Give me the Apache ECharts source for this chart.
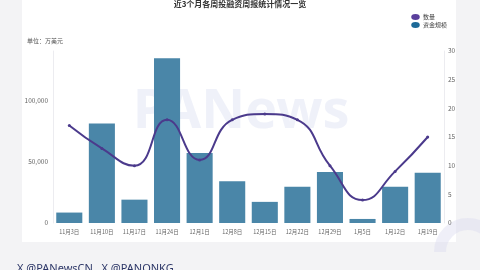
<!DOCTYPE html>
<html>
<head>
<meta charset="utf-8">
<style>
html,body{margin:0;padding:0;background:#f3f3f5;}
#chart{width:480px;height:270px;}
</style>
<script src="https://cdn.jsdelivr.net/npm/echarts@6/dist/echarts.min.js"></script>
</head>
<body>
<div id="chart"></div>
<script>
const categories = ['11月3日','11月10日','11月17日','11月24日','12月1日','12月8日','12月15日','12月22日','12月29日','1月5日','1月12日','1月19日'];
const fundValues = [8500, 81000, 19000, 134000, 57000, 34000, 17200, 29500, 41600, 3300, 29500, 41000];
const countValues = [17, 13, 10, 18, 11, 18, 19, 18, 10, 4, 9, 15];
const leftTicks = [0, 50000, 100000];
const rightTicks = [0, 5, 10, 15, 20, 25, 30];

const chart = echarts.init(document.getElementById('chart'), null, {renderer: 'canvas'});
const font = '"Noto Sans CJK SC", "Noto Sans", sans-serif';
const ellipse = 'path://M0,3.5 A5,3.5 0 1,1 10,3.5 A5,3.5 0 1,1 0,3.5 Z';

chart.setOption({
  backgroundColor: '#f3f3f5',
  animation: false,
  textStyle: {fontFamily: font},
  graphic: [
    {type: 'rect', z: -10, silent: true, shape: {x: 22, y: -10, width: 434, height: 252}, style: {fill: '#ffffff'}},
    {type: 'text', z: -5, silent: true, left: 133, top: 86, style: {text: 'PANews', font: 'bold 54px "Noto Sans", sans-serif', fill: 'rgba(228,231,245,0.6)'}},
    {type: 'arc', z: -4, silent: true, shape: {cx: 468, cy: 252, r: 28, startAngle: Math.PI, endAngle: 2 * Math.PI}, style: {stroke: 'rgba(220,220,240,0.45)', lineWidth: 12, fill: null}},
    {type: 'text', z: 5, left: 27, top: 38, style: {text: '单位：万美元', font: '6px ' + font, fill: '#555'}},
    {type: 'text', z: 5, left: 17, top: 263, style: {text: 'X @PANewsCN   X @PANONKG', font: '11px "Noto Sans", sans-serif', fill: '#2b3566'}}
  ],
  title: {
    text: '近3个月各周投融资周报统计情况一览',
    left: 'center',
    top: -5,
    textStyle: {fontSize: 8, fontWeight: 'bold', color: '#333', fontFamily: font}
  },
  legend: {
    orient: 'vertical',
    right: 28,
    top: 9,
    itemWidth: 9,
    itemHeight: 6,
    itemGap: 2,
    textStyle: {fontSize: 6, color: '#444', padding: [0, 0, 0, -2]},
    data: [
      {name: '数量', icon: ellipse, itemStyle: {color: '#5a3f9c'}},
      {name: '资金规模', icon: ellipse, itemStyle: {color: '#1d6a98'}}
    ]
  },
  grid: {left: 53, right: 36, top: 51, bottom: 47},
  xAxis: {
    type: 'category',
    data: categories,
    axisLine: {show: false},
    axisTick: {show: false},
    axisLabel: {fontSize: 5.5, color: '#666', margin: 6, interval: 0}
  },
  yAxis: [
    {
      type: 'value', min: 0, max: 140000, interval: 50000,
      axisLine: {show: true, lineStyle: {color: '#ececf0'}},
      axisTick: {show: false},
      splitLine: {show: false},
      axisLabel: {fontSize: 6.5, color: '#666', margin: 5, showMaxLabel: false,
        formatter: v => leftTicks.indexOf(v) >= 0 ? v.toLocaleString('en-US') : ''}
    },
    {
      type: 'value', min: 0, max: 30, interval: 5,
      axisLine: {show: true, lineStyle: {color: '#ececf0'}},
      axisTick: {show: false},
      splitLine: {show: false},
      axisLabel: {fontSize: 6.5, color: '#666', margin: 4,
        formatter: v => rightTicks.indexOf(v) >= 0 ? String(v) : ''}
    }
  ],
  series: [
    {
      name: '资金规模', type: 'bar', yAxisIndex: 0, data: fundValues,
      barWidth: '80%',
      itemStyle: {color: '#4a86a8'}
    },
    {
      name: '数量', type: 'line', yAxisIndex: 1, data: countValues,
      smooth: 0.5, symbol: 'circle', symbolSize: 3, showSymbol: true,
      lineStyle: {color: '#4b3a8c', width: 2},
      itemStyle: {color: '#4b3a8c'},
      z: 3
    }
  ]
});
</script>
</body>
</html>
